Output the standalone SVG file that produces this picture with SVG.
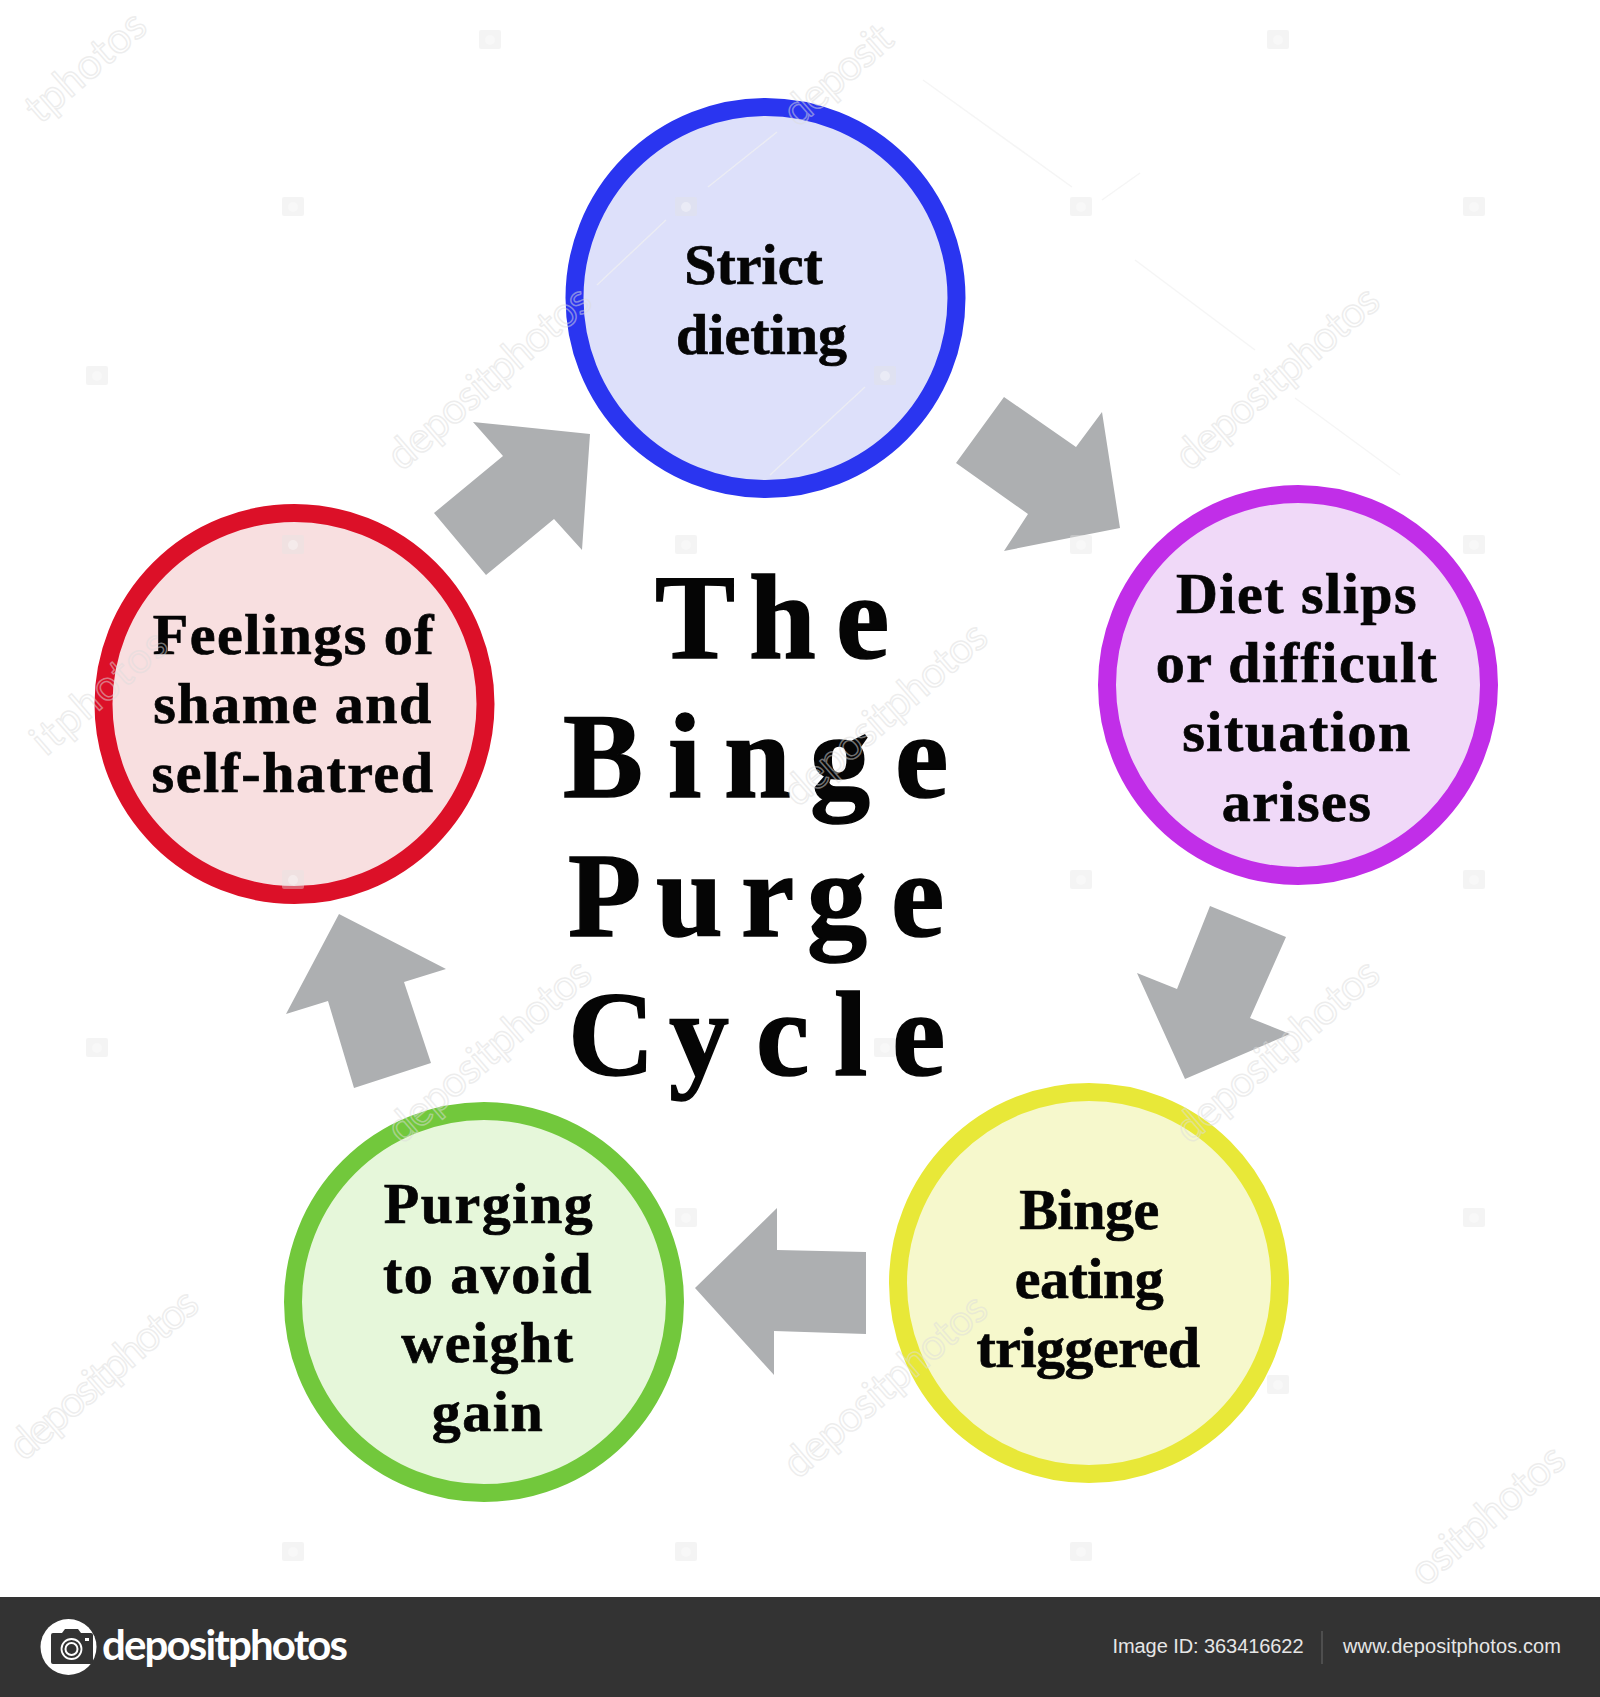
<svg xmlns="http://www.w3.org/2000/svg" width="1600" height="1697" viewBox="0 0 1600 1697">
<style>
.bg{fill:#fff}
.c{stroke-width:18}
.a{fill:#adafb1}
.n{font-family:"Liberation Serif","Times New Roman",serif;font-weight:700;font-size:58px;fill:#050505;stroke:#050505;stroke-width:.7;text-anchor:middle}
.s{letter-spacing:1.500px}
.y{letter-spacing:-.5px}
.t{font-family:"Liberation Serif","Times New Roman",serif;font-weight:700;font-size:120px;fill:#050505;stroke:#050505;stroke-width:1.500}
.w{font-family:"Lato","Liberation Sans",sans-serif;font-size:42px;fill:none;stroke:#dcdcdc;stroke-opacity:.5;stroke-width:1.500}
.i{fill:#e4e4e4;fill-opacity:.4}
.l{stroke:#f1f1f1;stroke-width:1.500;fill:none;stroke-opacity:.7}
.f{font-family:"Liberation Sans",Arial,sans-serif;font-size:20px;fill:#e6e6e6}
</style>
<defs>
<g id="cam"><rect x="-11" y="-10" width="22" height="19" rx="2"/><circle r="5" fill="#fff" fill-opacity=".35"/></g>
</defs>
<rect class="bg" width="1600" height="1697"/>
<g id="connectors">
<polygon class="a" points="1004,397 1076,447 1102,412 1120,528 1004,551 1028,514 956,463"/>
<polygon class="a" points="1210,906 1286,937 1250,1018 1290,1034 1185,1079 1137,973 1177,989"/>
<polygon class="a" points="866,1252 866,1334 774,1331 774,1375 695,1288 777,1208 777,1250"/>
<polygon class="a" points="431,1063 354,1088 328,1001 286,1014 339,914 446,969 404,982"/>
<polygon class="a" points="486,575 434,513 503,456 473,422 590,434 582,550 554,519"/>
</g>
<g id="node-strict-dieting">
<circle class="c" cx="765.500" cy="298" r="191" fill="#dde0fa" stroke="#2a35f0"/>
<text class="n" x="753.500" y="284">Strict</text>
<text class="n" x="761.500" y="354">dieting</text>
</g>
<g id="node-diet-slips">
<circle class="c" cx="1298" cy="685" r="191" fill="#f0d9f8" stroke="#c12ee8"/>
<text class="n s" x="1297" y="613">Diet slips</text>
<text class="n s" x="1297" y="682">or difficult</text>
<text class="n s" x="1297" y="751">situation</text>
<text class="n s" x="1297" y="821">arises</text>
</g>
<g id="node-binge-eating">
<circle class="c" cx="1089" cy="1283" r="191" fill="#f6f8cc" stroke="#e8e838"/>
<text class="n y" x="1089" y="1229">Binge</text>
<text class="n y" x="1089" y="1298">eating</text>
<text class="n y" x="1088" y="1367">triggered</text>
</g>
<g id="node-purging">
<circle class="c" cx="484" cy="1302" r="191" fill="#e6f7da" stroke="#72c83c"/>
<text class="n s" x="489" y="1223">Purging</text>
<text class="n s" x="488" y="1293">to avoid</text>
<text class="n s" x="488" y="1362">weight</text>
<text class="n s" x="488" y="1431">gain</text>
</g>
<g id="node-feelings">
<circle class="c" cx="294.500" cy="704" r="191" fill="#f8dfe0" stroke="#dc1028"/>
<text class="n s" x="294" y="654">Feelings of</text>
<text class="n s" x="293" y="723">shame and</text>
<text class="n s" x="293" y="792">self-hatred</text>
</g>
<g id="title">
<text class="t" x="655 749 836" y="658">The</text>
<text class="t" x="563 668 724 810 895" y="797">Binge</text>
<text class="t" x="568 656 741 807 891" y="936">Purge</text>
<text class="t" x="568 669 756 834 892" y="1075">Cycle</text>
</g>
<g id="watermark">
<path class="l" d="M923 80 1072 187M1102 200 1140 173M1135 260 1255 350M1295 398 1400 475M777 132 708 187M666 220 597 285M865 387 770 475"/>
<text class="w" textLength="255" transform="translate(402 472) rotate(-41)">depositphotos</text>
<text class="w" textLength="255" transform="translate(1190 472) rotate(-41)">depositphotos</text>
<text class="w" textLength="255" transform="translate(798 808) rotate(-41)">depositphotos</text>
<text class="w" textLength="255" transform="translate(402 1145) rotate(-41)">depositphotos</text>
<text class="w" textLength="255" transform="translate(1190 1145) rotate(-41)">depositphotos</text>
<text class="w" textLength="255" transform="translate(798 1480) rotate(-41)">depositphotos</text>
<text class="w" textLength="235" transform="translate(24 1462) rotate(-41)">depositphotos</text>
<text class="w" textLength="190" transform="translate(1425 1588) rotate(-41)">ositphotos</text>
<text class="w" textLength="130" transform="translate(798 128) rotate(-41)">deposit</text>
<text class="w" textLength="145" transform="translate(40 125) rotate(-41)">tphotos</text>
<text class="w" textLength="165" transform="translate(46 757) rotate(-41)">itphotos</text>
<g class="i">
<use href="#cam" x="293" y="207"/><use href="#cam" x="686" y="207"/><use href="#cam" x="1081" y="207"/><use href="#cam" x="1474" y="207"/>
<use href="#cam" x="97" y="376"/><use href="#cam" x="490" y="40"/><use href="#cam" x="885" y="376"/><use href="#cam" x="1278" y="40"/>
<use href="#cam" x="293" y="545"/><use href="#cam" x="686" y="545"/><use href="#cam" x="1081" y="545"/><use href="#cam" x="1474" y="545"/>
<use href="#cam" x="293" y="880"/><use href="#cam" x="1081" y="880"/><use href="#cam" x="1474" y="880"/>
<use href="#cam" x="97" y="1048"/><use href="#cam" x="885" y="1048"/>
<use href="#cam" x="686" y="1218"/><use href="#cam" x="1474" y="1218"/><use href="#cam" x="1278" y="1385"/>
<use href="#cam" x="293" y="1552"/><use href="#cam" x="686" y="1552"/><use href="#cam" x="1081" y="1552"/>
</g>
</g>
<g id="footer">
<rect y="1597" width="1600" height="100" fill="#333"/>
<circle cx="68.500" cy="1647" r="28" fill="#fff"/>
<path d="M53 1633h9l3-4h13l3 4h10a2 2 0 0 1 2 2v27a2 2 0 0 1-2 2H53a2 2 0 0 1-2-2v-27a2 2 0 0 1 2-2z" fill="#333"/>
<circle cx="71.500" cy="1649" r="10" fill="none" stroke="#fff" stroke-width="1.800"/>
<circle cx="71.500" cy="1649" r="6" fill="none" stroke="#fff" stroke-width="2"/>
<rect x="85" y="1638" width="4" height="3" fill="#fff"/>
<text x="102" y="1660" textLength="246" font-family="Lato,'Liberation Sans',sans-serif" font-weight="700" font-size="42" fill="#fff">depositphotos</text>
<text class="f" x="1112.500" y="1653" textLength="191">Image ID: 363416622</text>
<rect x="1321.500" y="1631" width="1" height="33" fill="#6a6a6a"/>
<text class="f" x="1343" y="1653" textLength="218">www.depositphotos.com</text>
</g>
</svg>
